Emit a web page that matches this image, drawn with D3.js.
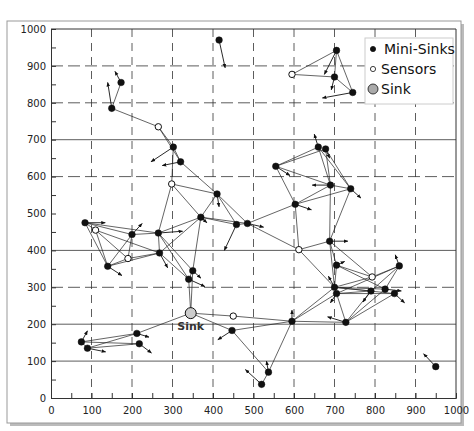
<!DOCTYPE html>
<html><head><meta charset="utf-8">
<script src="https://cdnjs.cloudflare.com/ajax/libs/d3/7.8.5/d3.min.js"></script>
<style>body{margin:0;background:#fff}text{font-family:"DejaVu Sans",sans-serif}</style>
</head><body>
<svg id="c" width="474" height="431"></svg>
<script>
// node: [id, x, y, type]  m = mini-sink, s = sensor, k = sink
var nodes = [
 ["A",415,970,"m"],["B",173,855,"m"],["C",150,785,"m"],["D",705,942,"m"],["E",700,870,"m"],["F",745,828,"m"],
 ["S1",595,877,"s"],["S2",265,735,"s"],["G",302,680,"m"],["H",320,640,"m"],["S3",298,580,"s"],["I",410,553,"m"],
 ["J",370,490,"m"],["K",458,470,"m"],["L",485,473,"m"],["M",84,475,"m"],["S4",110,455,"s"],["N",200,443,"m"],
 ["O",265,447,"m"],["S5",190,378,"s"],["P",268,393,"m"],["Q",140,357,"m"],["R",350,345,"m"],["T",340,322,"m"],
 ["Sink",345,230,"k"],["S6",450,222,"s"],["U",447,183,"m"],["V",595,208,"m"],["W",537,70,"m"],["X",520,37,"m"],
 ["Y",212,175,"m"],["Z",218,147,"m"],["AA",75,152,"m"],["AB",90,135,"m"],["AC",950,85,"m"],
 ["R1",555,628,"m"],["R2",660,680,"m"],["R3",678,675,"m"],["R4",690,577,"m"],["R5",740,567,"m"],["R6",603,525,"m"],
 ["R7",688,425,"m"],["S7",612,402,"s"],["R8",705,360,"m"],["R9",700,300,"m"],["R10",705,283,"m"],["R11",790,290,"m"],
 ["S8",793,328,"s"],["R12",825,295,"m"],["R13",860,358,"m"],["R14",848,283,"m"],["R15",728,205,"m"]
];
var edges = [
 ["C","B"],["C","S2"],["S2","G"],["S2","H"],["G","S3"],["G","H"],["H","I"],["S3","I"],["S3","J"],["S3","O"],
 ["I","J"],["I","K"],["I","L"],["J","K"],["J","L"],["K","L"],["J","O"],["J","P"],["J","R"],["L","S7"],
 ["M","S4"],["M","Q"],["M","N"],["M","O"],["S4","Q"],["S4","S5"],["S4","P"],["N","Q"],["N","S5"],["N","O"],
 ["O","P"],["O","R"],["O","T"],["P","Q"],["P","S5"],["P","T"],["Q","S5"],["R","T"],["R","Sink"],["T","Sink"],
 ["Sink","S6"],["Sink","U"],["Sink","Y"],["S6","V"],["U","V"],["U","W"],["W","X"],["V","W"],
 ["Y","AA"],["Y","AB"],["Z","AA"],["Z","AB"],["AA","AB"],
 ["R1","R2"],["R1","R3"],["R1","R4"],["R1","R6"],["R2","R4"],["R2","R5"],["R3","R4"],["R3","R5"],["R4","R5"],
 ["R4","R6"],["R5","R6"],["R4","R7"],["R5","R7"],["R6","S7"],["R6","L"],["R7","S7"],["R7","R9"],["R7","R8"],
 ["R7","S8"],["S7","R9"],["R8","R9"],["R8","S8"],["R8","R12"],["R9","R10"],["R9","R11"],["R9","R12"],
 ["R9","R14"],["R9","S8"],["R10","R11"],["R10","R14"],["R10","R15"],["R10","R13"],["R11","R15"],
 ["R12","R15"],["R14","R15"],["S8","R13"],["R11","R13"],["R12","R13"],["R9","V"],["R10","V"],["V","R15"],
 ["D","S1"],["D","E"],["D","F"],["S1","E"],["E","F"]
];
// movement arrows: [id, dx, dy]
var arrows = [
 ["A",15,-75],["B",-15,30],["C",-10,70],["D",-30,-65],["E",-8,-35],["F",-75,-15],["G",-55,-40],["H",-45,-10],
 ["I",5,-35],["J",15,-15],["K",-30,-70],["L",40,-10],["M",50,0],["N",25,30],["O",60,5],["P",20,-40],["Q",35,-25],
 ["R",20,-20],["T",40,-20],["Y",30,-10],["Z",30,-25],["AA",15,30],["AB",45,-10],["U",-35,-25],["V",0,30],
 ["W",-5,30],["X",-40,40],["AC",-30,35],["R1",35,-25],["R2",-10,35],["R3",10,-25],["R4",-45,0],["R5",25,-25],
 ["R6",40,-15],["R7",45,0],["R8",20,10],["R9",-15,30],["R10",-15,-25],["R11",-20,-30],["R12",40,-5],
 ["R13",-10,30],["R14",25,-25],["R15",-45,15]
];
var ticks = [0,100,200,300,400,500,600,700,800,900,1000];
var solidRows = [100,200,400,700];
var dashedRows = [300,600,800,900];
var legendItems = [["m","Mini-Sinks"],["s","Sensors"],["k","Sink"]];

var svg = d3.select("#c");
var x = d3.scaleLinear().domain([0,1000]).range([51,456]);
var y = d3.scaleLinear().domain([0,1000]).range([398,29]);
var byId = {};
nodes.forEach(function(n){ byId[n[0]] = n; });

// figure frame with shadow
svg.append("rect").attr("x",10).attr("y",24).attr("width",454).attr("height",402).attr("fill","#bbb");
svg.append("rect").attr("x",7).attr("y",21).attr("width",454).attr("height",402).attr("fill","#fff").attr("stroke","#999");

// grid
svg.selectAll(".vg").data(ticks.slice(1,10)).enter().append("line")
  .attr("x1",function(d){return x(d);}).attr("x2",function(d){return x(d);})
  .attr("y1",y(1000)).attr("y2",y(0)).attr("stroke","#333").attr("stroke-width",0.8).attr("stroke-dasharray","8,6");
svg.selectAll(".hs").data(solidRows).enter().append("line")
  .attr("x1",x(0)).attr("x2",x(1000)).attr("y1",function(d){return y(d);}).attr("y2",function(d){return y(d);})
  .attr("stroke","#333").attr("stroke-width",0.8);
svg.selectAll(".hd").data(dashedRows).enter().append("line")
  .attr("x1",x(0)).attr("x2",x(1000)).attr("y1",function(d){return y(d);}).attr("y2",function(d){return y(d);})
  .attr("stroke","#333").attr("stroke-width",0.8).attr("stroke-dasharray","12,5");

// axes
var xa = svg.append("g").attr("transform","translate(0,"+y(0)+")")
  .call(d3.axisBottom(x).tickValues(d3.range(0,1001,50)).tickSize(-5).tickFormat(function(d){return d%100?"":d;}));
var ya = svg.append("g").attr("transform","translate("+x(0)+",0)")
  .call(d3.axisLeft(y).tickValues(d3.range(0,1001,50)).tickSize(-5).tickFormat(function(d){return d%100?"":d;}));
[xa,ya].forEach(function(a){
  a.select(".domain").attr("stroke","#333");
  a.selectAll(".tick line").attr("stroke","#333");
  a.selectAll("text").attr("font-size",10).attr("fill","#222").style("font-family","DejaVu Sans");
});
xa.selectAll("text").attr("dy","1.3em");
ya.selectAll("text").attr("dx","-2");
svg.append("line").attr("x1",x(0)).attr("x2",x(1000)).attr("y1",y(1000)).attr("y2",y(1000)).attr("stroke","#333");
svg.append("line").attr("x1",x(1000)).attr("x2",x(1000)).attr("y1",y(1000)).attr("y2",y(0)).attr("stroke","#333");

// arrow marker
svg.append("defs").append("marker").attr("id","ah").attr("viewBox","0 0 10 10").attr("refX",9).attr("refY",5)
  .attr("markerWidth",5).attr("markerHeight",5).attr("orient","auto")
  .append("path").attr("d","M0,1L10,5L0,9z").attr("fill","#111");

svg.selectAll(".e").data(edges).enter().append("line")
  .attr("x1",function(d){return x(byId[d[0]][1]);}).attr("y1",function(d){return y(byId[d[0]][2]);})
  .attr("x2",function(d){return x(byId[d[1]][1]);}).attr("y2",function(d){return y(byId[d[1]][2]);})
  .attr("stroke","#222").attr("stroke-width",0.7);

svg.selectAll(".a").data(arrows).enter().append("line")
  .attr("x1",function(d){return x(byId[d[0]][1]);}).attr("y1",function(d){return y(byId[d[0]][2]);})
  .attr("x2",function(d){return x(byId[d[0]][1]+d[1]);}).attr("y2",function(d){return y(byId[d[0]][2]+d[2]);})
  .attr("stroke","#111").attr("stroke-width",0.9).attr("marker-end","url(#ah)");

function drawNode(sel){
  sel.attr("r",function(d){return d[3]=="k"?5.5:d[3]=="s"?3.2:3.3;})
    .attr("fill",function(d){return d[3]=="k"?"#ccc":d[3]=="s"?"#fff":"#111";})
    .attr("stroke","#111").attr("stroke-width",function(d){return d[3]=="m"?0.5:1;});
}
svg.selectAll(".n").data(nodes).enter().append("circle")
  .attr("cx",function(d){return x(d[1]);}).attr("cy",function(d){return y(d[2]);}).call(drawNode);
svg.append("text").attr("x",x(345)).attr("y",y(230)+17).attr("text-anchor","middle")
  .attr("font-size",11).attr("font-weight","bold").attr("fill","#333").text("Sink");

// legend
var lg = svg.append("g").attr("transform","translate(365,38)");
lg.append("rect").attr("width",88).attr("height",66).attr("fill","#fff").attr("stroke","#ccc");
lg.selectAll("circle").data(legendItems).enter().append("circle")
  .attr("cx",8).attr("cy",function(d,i){return 11+i*20;})
  .attr("r",function(d){return d[0]=="k"?5:2.6;})
  .attr("fill",function(d){return d[0]=="k"?"#aaa":d[0]=="s"?"#fff":"#111";})
  .attr("stroke","#111").attr("stroke-width",0.8);
lg.selectAll("text").data(legendItems).enter().append("text")
  .attr("x",function(d){return d[0]=="m"?19:16;}).attr("y",function(d,i){return 16+i*20;})
  .attr("font-size",14).attr("fill","#111").text(function(d){return d[1];});
</script>
</body></html>
